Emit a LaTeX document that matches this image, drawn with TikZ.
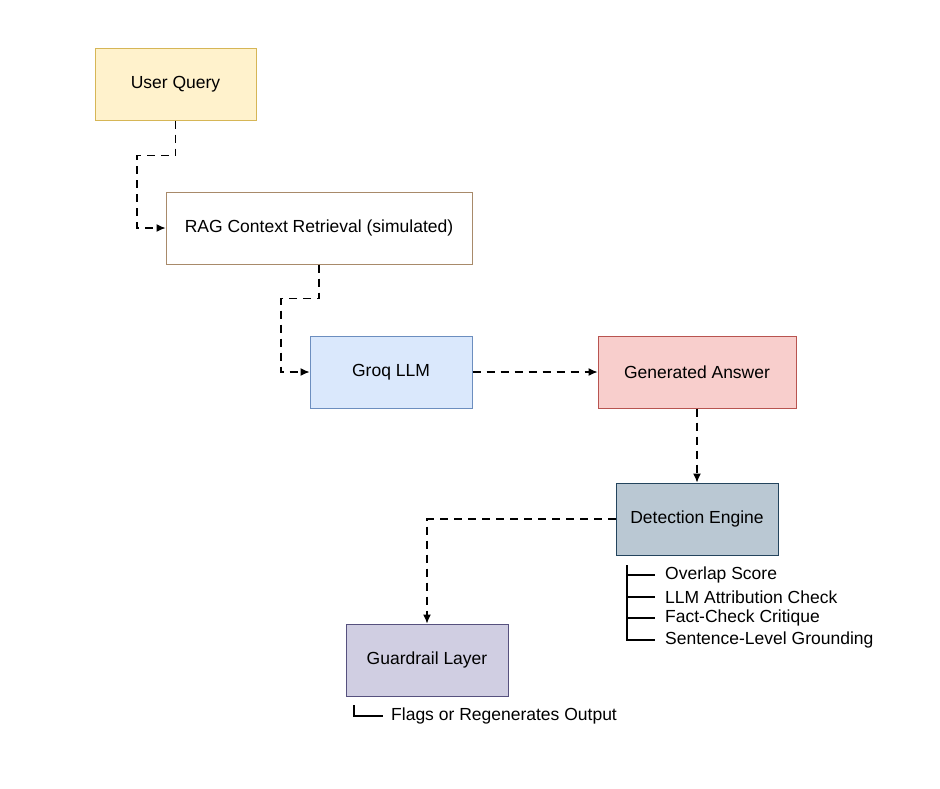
\documentclass[tikz,border=0pt]{standalone}
\usepackage{fontspec}
\setmainfont{Liberation Sans}
\usetikzlibrary{arrows.meta}
\definecolor{queryfill}{HTML}{FFF2CC}
\definecolor{querydraw}{HTML}{D6B656}
\definecolor{ragdraw}{HTML}{A88A6A}
\definecolor{llmfill}{HTML}{DAE8FC}
\definecolor{llmdraw}{HTML}{6C8EBF}
\definecolor{ansfill}{HTML}{F8CECC}
\definecolor{ansdraw}{HTML}{B85450}
\definecolor{detfill}{HTML}{BAC8D3}
\definecolor{detdraw}{HTML}{23445D}
\definecolor{guardfill}{HTML}{D0CEE2}
\definecolor{guarddraw}{HTML}{56517E}
\tikzset{
  block/.style={rectangle, draw, line width=1pt, minimum height=72pt,
    font=\fontsize{17.5}{20}\selectfont, inner sep=0pt},
  line/.style={draw, line width=1.2pt, dash pattern=on 8pt off 6pt, -{Latex[length=9pt,width=8pt]}},
  tree/.style={draw, line width=1.2pt},
  item/.style={anchor=west, font=\fontsize{17.5}{20}\selectfont, inner sep=0pt}
}
\begin{document}
\begin{tikzpicture}[x=1pt, y=-1pt]
  \useasboundingbox (0,0) rectangle (940,788);
  \node [block, fill=queryfill, draw=querydraw, minimum width=161pt] (query) at (175.5,84) {User Query};
  \node [block, fill=white, draw=ragdraw, minimum width=306pt] (rag) at (319,228) {RAG Context Retrieval (simulated)};
  \node [block, fill=llmfill, draw=llmdraw, minimum width=162pt] (groq) at (391,372) {Groq LLM};
  \node [block, fill=ansfill, draw=ansdraw, minimum width=198pt] (answer) at (697,372) {Generated Answer};
  \node [block, fill=detfill, draw=detdraw, minimum width=162pt] (detect) at (697,519) {Detection Engine};
  \node [block, fill=guardfill, draw=guarddraw, minimum width=162pt] (guard) at (427,660) {Guardrail Layer};
  % connectors
  \path [line] (query.south) -- ++(0,35) -| (137,228) -- (rag.west);
  \path [line] (rag.south) -- ++(0,34) -| (281,372) -- (groq.west);
  \path [line] (groq) -- (answer);
  \path [line] (answer) -- (detect);
  \path [line] (detect.west) -| (guard.north);
  % detection checks
  \coordinate (t0) at (627,565);
  \path [tree] (t0) |- (655,640);
  \foreach \y/\txt in {575/Overlap Score, 597/LLM Attribution Check, 618/Fact-Check Critique, 640/Sentence-Level Grounding}
    {\path [tree] (627,\y) -- (655,\y);
     \node [item] at (665,\y) {\txt};}
  % guardrail output
  \coordinate (g0) at (354,705);
  \path [tree] (g0) |- (383,716);
  \node [item] (flags) at (391,716) {Flags or Regenerates Output};
\end{tikzpicture}
\end{document}
